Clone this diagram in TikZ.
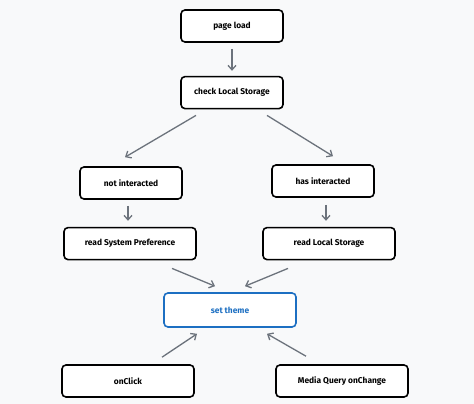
\documentclass[tikz,border=0pt]{standalone}
\usepackage{fontspec}
\setmainfont{Fira Sans}
\usetikzlibrary{positioning, calc, arrows.meta}

\definecolor{bggray}{HTML}{F8F9FA}
\definecolor{arrowgray}{HTML}{6C737C}
\definecolor{themeblue}{HTML}{1C6FC2}

\begin{document}
\begin{tikzpicture}[x=1pt, y=1pt]
  \newcommand\flowboxheight{32pt}
  \newcommand\shortboxwidth{102pt}
  \newcommand\longboxwidth{132pt}

  \tikzset{flowbox/.style={draw, line width=1.6pt, rounded corners=4pt, fill=white, font=\fontsize{8.4}{10}\bfseries, minimum height=\flowboxheight}}
  \tikzset{shortbox/.style={flowbox, minimum width=\shortboxwidth}}
  \tikzset{longbox/.style={flowbox, minimum width=\longboxwidth}}
  \tikzset{bluebox/.style={longbox, draw=themeblue, text=themeblue, minimum height=34pt}}
  \tikzset{flowarrow/.style={draw=arrowgray, line width=1.3pt, -{Straight Barb[length=4.5pt, width=8pt]}}}

  \fill[bggray] (0, 0) rectangle (474, -404);

  \node[shortbox] at (232, -26) (pageload) {page load};
  \node[shortbox, below=33pt of pageload] (checkls) {check Local Storage};
  \node[shortbox] at (131, -183) (notint) {not interacted};
  \node[shortbox] at (323, -181) (hasint) {has interacted};
  \node[longbox, below=27pt of notint, xshift=-1pt] (readsys) {read System Preference};
  \node[longbox, below=29pt of hasint, xshift=6pt] (readls) {read Local Storage};
  \node[bluebox] at (230, -310) (settheme) {set theme};
  \node[longbox] at (128, -381) (onclick) {onClick};
  \node[longbox] at (342, -381) (mediaq) {Media Query onChange};

  \draw[flowarrow] ($(pageload.south)+(0, -6)$) -- ($(checkls.north)+(0, 5)$);
  \draw[flowarrow] ($(checkls.south)+(-36, -6)$) -- ($(notint.north)+(-6, 9)$);
  \draw[flowarrow] ($(checkls.south)+(35, -6)$) -- ($(hasint.north)+(10, 8)$);
  \draw[flowarrow] ($(notint.south)+(-3, -6)$) -- ($(readsys.north)+(-2, 6)$);
  \draw[flowarrow] ($(hasint.south)+(3, -7)$) -- ($(readls.north)+(-3, 6)$);
  \draw[flowarrow] ($(readsys.south)+(42, -8)$) -- ($(settheme.north)+(-15, 6)$);
  \draw[flowarrow] ($(readls.south)+(-41, -8)$) -- ($(settheme.north)+(15, 6)$);
  \draw[flowarrow] ($(onclick.north)+(34, 7)$) -- ($(settheme.south)+(-33, -6)$);
  \draw[flowarrow] ($(mediaq.north)+(-36, 8)$) -- ($(settheme.south)+(37, -6)$);
\end{tikzpicture}
\end{document}
